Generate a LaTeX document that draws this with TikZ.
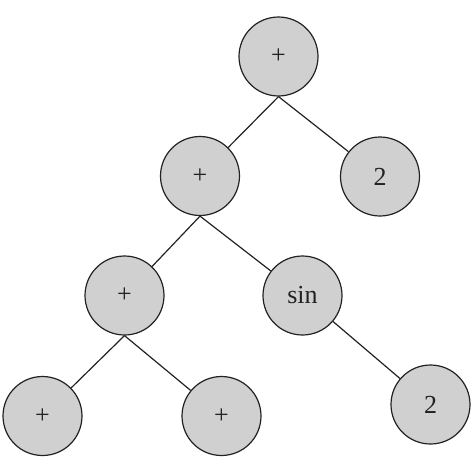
\documentclass[tikz,border=0pt]{standalone}
\usepackage{fontspec}
\setmainfont{Liberation Serif}
\definecolor{nodefill}{RGB}{208,208,208}
\definecolor{edgecol}{RGB}{34,34,34}
\begin{document}
\begin{tikzpicture}[x=1pt,y=-1pt,
  tnode/.style={circle,draw=edgecol,line width=1.2pt,fill=nodefill,minimum size=79pt,inner sep=0pt,font=\fontsize{26}{30}\selectfont,text=edgecol},
  edge/.style={draw=edgecol,line width=1.2pt}]
\useasboundingbox (0,0) rectangle (474,474);
\node[tnode] (r) at (278.5,56.5) {+};
\node[tnode] (a) at (200,176) {+};
\node[tnode] (b) at (380,176.5) {2};
\node[tnode] (c) at (124.5,295.5) {+};
\node[tnode] (d) at (302.5,295.5) {sin};
\node[tnode] (e) at (42.5,416) {+};
\node[tnode] (f) at (221.5,416) {+};
\node[tnode] (g) at (430.5,404.5) {2};
\path[edge] (r.south) -- (a);
\path[edge] (r.south) -- (b);
\path[edge] (a.south) -- (c);
\path[edge] (a.south) -- (d);
\path[edge] (c.south) -- (e);
\path[edge] (c.south) -- (f);
\path[edge] (d) -- (g);
\end{tikzpicture}
\end{document}
